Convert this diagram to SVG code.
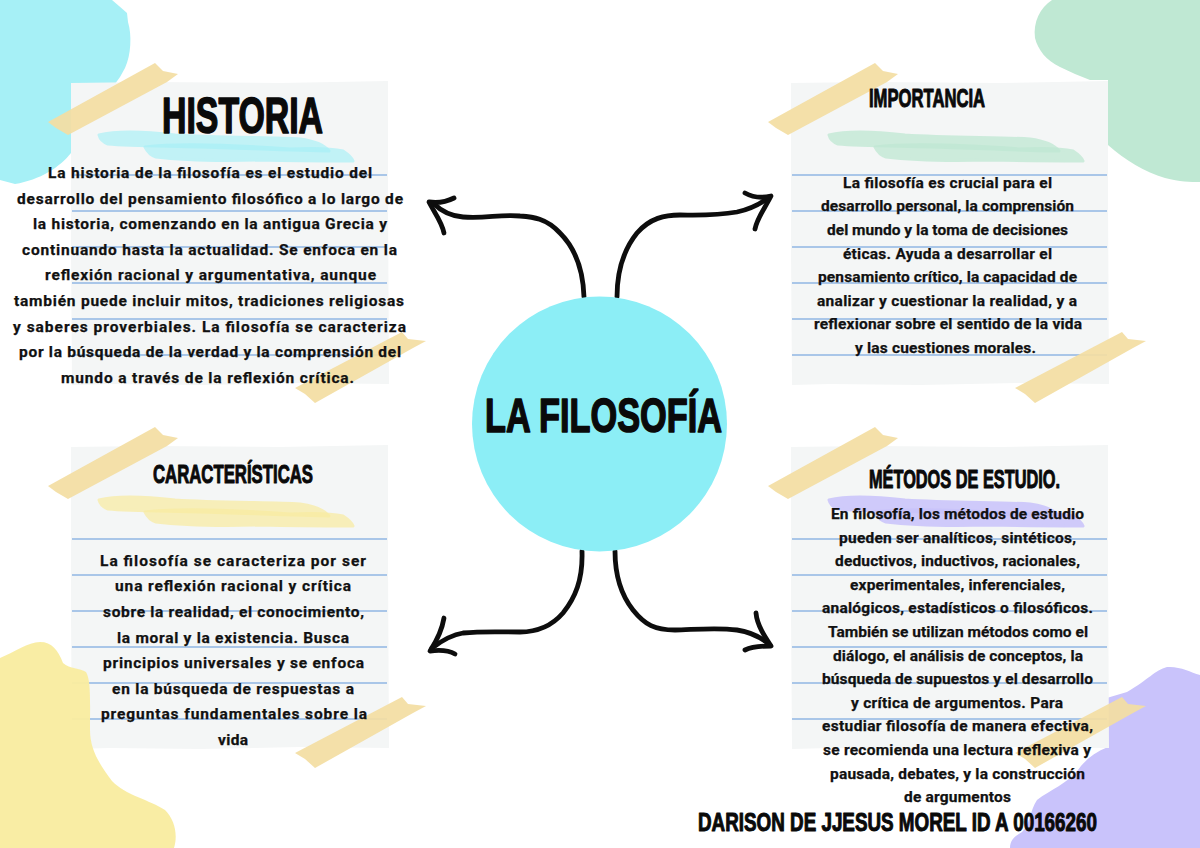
<svg xmlns="http://www.w3.org/2000/svg" width="1200" height="848" viewBox="0 0 1200 848">
<style>
.b{font-family:"Roboto","Liberation Sans",sans-serif;font-weight:700;font-size:15.5px;fill:#111;stroke:#111;stroke-width:.25}
.t{font-family:"Liberation Sans","Arial",sans-serif;font-weight:700;fill:#0a0a0a;stroke:#0a0a0a;stroke-width:1;stroke-linejoin:round}
.paper{fill:#f4f6f6}
.rule{stroke:#a9c6e8;stroke-width:2;fill:none}
.tape{fill:#f3dea3;opacity:.93}
.hl{stroke-width:3;stroke-linejoin:round}
.c{fill:none;stroke:#0d0d0d;stroke-width:4.8;stroke-linecap:round;stroke-linejoin:round}
</style>
<defs>
<path id="sheet" d="M71 83L150 82L280 83L388 81L388 200L389 384L300 383L200 385L110 384L72 385L71 250Z"/>
<g id="rules"><path d="M72 175H387M72 211H387M72 247H387M72 283H387M72 319H387M72 355H387"/></g>
<path id="tape1" d="M48 122L155 63L163 71L178 74L167 82L68 135L56 128Z"/>
<path id="tape2" d="M295 388L402 332L408 339L426 341L413 348L315 403L305 394Z"/>
<path id="hl1" d="M99 135C115 131 140 131 175 135C220 138 270 137 300 139C315 141 325 146 329 151C300 151 240 148 200 147C165 146 130 146 108 144C102 142 100 139 99 135Z"/>
<path id="hl2" d="M145 147C170 144 220 144 290 149C310 148 330 148 343 151C349 155 352 158 353 161C330 161 300 161 260 160C220 161 180 160 156 157C150 155 147 151 145 147Z"/>
</defs>

<rect width="1200" height="848" fill="#fff"/>

<g id="blob-blue"><path fill="#a6f0f6" d="M0 0H112L119 6L127 13L128 22C132 35 131 55 125 68L120 77L112 88H71V153C60 167 40 180 15 184L0 180Z"/></g>
<g id="blob-green"><path fill="#bfe8d3" d="M1052 0C1040 8 1033 22 1035 38C1038 50 1046 60 1060 67C1070 72 1080 76 1090 80H1108V145C1125 160 1145 172 1165 178C1180 182 1190 182 1200 182V0Z"/></g>
<g id="blob-purple"><path fill="#c9c3fb" d="M1200 675C1190 672 1180 666 1167 667C1155 670 1148 680 1127 692L1100 700V747L1108 747C1095 752 1085 760 1078 770C1068 783 1050 790 1037 800C1030 810 1030 825 1022 832C1015 836 1010 840 1010 848H1200Z"/></g>

<g id="historia">
<use href="#sheet" class="paper"/>
<use href="#rules" class="rule"/>
<use href="#hl1" class="hl" fill="#a6f0f6" stroke="#a6f0f6" opacity=".65"/>
<use href="#hl2" class="hl" fill="#a6f0f6" stroke="#a6f0f6" opacity=".65"/>
</g>
<g id="importancia" transform="translate(720 0)">
<use href="#sheet" class="paper"/>
<use href="#rules" class="rule"/>
<use href="#hl1" class="hl" x="10" fill="#bfe8d3" stroke="#bfe8d3" opacity=".75"/>
<use href="#hl2" class="hl" x="10" fill="#bfe8d3" stroke="#bfe8d3" opacity=".75"/>
</g>
<g id="caracteristicas" transform="translate(0 364)">
<use href="#sheet" class="paper"/>
<use href="#rules" class="rule"/>
<use href="#hl1" class="hl" y="1" fill="#f9eca0" stroke="#f9eca0" opacity=".7"/>
<use href="#hl2" class="hl" y="1" fill="#f9eca0" stroke="#f9eca0" opacity=".7"/>
</g>
<g id="metodos" transform="translate(720 364)">
<use href="#sheet" class="paper"/>
<use href="#rules" class="rule"/>
<use href="#hl1" class="hl" x="10" y="1" fill="#c9c3fb" stroke="#c9c3fb" opacity=".85"/>
<use href="#hl2" class="hl" x="10" y="1" fill="#c9c3fb" stroke="#c9c3fb" opacity=".85"/>
</g>

<g id="blob-yellow"><path fill="#f9eca0" opacity=".96" d="M0 658C15 652 28 642 40 642C52 642 58 650 63 663C70 669 80 668 86 672C91 680 90 700 90 730C90 750 100 765 112 781C125 795 150 800 165 810C175 820 178 835 174 848H0Z"/></g>

<g id="tapes">
<use href="#tape1" class="tape"/><use href="#tape2" class="tape"/>
<use href="#tape1" class="tape" x="720"/><use href="#tape2" class="tape" x="720"/>
<use href="#tape1" class="tape" y="364"/><use href="#tape2" class="tape" y="365"/>
<use href="#tape1" class="tape" x="720" y="364"/><use href="#tape2" class="tape" x="720" y="365"/>
</g>

<g id="connectors">
<path class="c" d="M584 297C583 265 572 245 560 233C546 218 533 217 520 216C500 214 485 219 463 217C450 216 440 210 433 203"/>
<path class="c" d="M454 198C444 203 436 203 429 202C434 212 442 222 444 233"/>
<path class="c" d="M617 297C617 270 625 248 637 233C650 218 665 215 680 215C695 215 715 216 737 212C750 209 760 204 768 198"/>
<path class="c" d="M745 193C754 198 763 198 771 196C765 208 757 218 755 229"/>
<path class="c" d="M582 551C583 580 575 598 563 613C550 628 535 632 520 632C500 632 483 631 463 633C450 635 440 642 432 648"/>
<path class="c" d="M444 618C442 630 436 642 430 651C438 650 448 650 455 654"/>
<path class="c" d="M615 551C615 577 622 596 633 610C645 625 655 630 675 630C690 630 715 627 737 630C750 632 762 638 770 645"/>
<path class="c" d="M756 613C757 625 765 637 771 646C763 646 753 646 745 650"/>
</g>

<g id="centro">
<circle cx="599.5" cy="424" r="127.5" fill="#8ceef6"/>
<text class="t" x="485" y="432" font-size="48" textLength="237" lengthAdjust="spacingAndGlyphs" style="stroke-width:1.6">LA FILOSOFÍA</text>
</g>

<g id="historia-texto">
<text class="t" x="162" y="133" font-size="50" textLength="161" lengthAdjust="spacingAndGlyphs" style="stroke-width:1.6">HISTORIA</text>
<text class="b" x="48" y="178" textLength="324">La historia de la filosofía es el estudio del</text>
<text class="b" x="17" y="203.6" textLength="386">desarrollo del pensamiento filosófico a lo largo de</text>
<text class="b" x="33" y="229.2" textLength="354">la historia, comenzando en la antigua Grecia y</text>
<text class="b" x="22" y="254.8" textLength="375">continuando hasta la actualidad. Se enfoca en la</text>
<text class="b" x="45" y="280.4" textLength="331">reflexión racional y argumentativa, aunque</text>
<text class="b" x="14" y="306" textLength="390">también puede incluir mitos, tradiciones religiosas</text>
<text class="b" x="13" y="331.6" textLength="393">y saberes proverbiales. La filosofía se caracteriza</text>
<text class="b" x="19" y="357.2" textLength="382">por la búsqueda de la verdad y la comprensión del</text>
<text class="b" x="61" y="382.8" textLength="293">mundo a través de la reflexión crítica.</text>
</g>

<g id="importancia-texto">
<text class="t" x="869" y="107" font-size="25" textLength="116" lengthAdjust="spacingAndGlyphs">IMPORTANCIA</text>
<text class="b" x="843" y="187.7" textLength="209">La filosofía es crucial para el</text>
<text class="b" x="821" y="211.3" textLength="253">desarrollo personal, la comprensión</text>
<text class="b" x="827" y="234.9" textLength="241">del mundo y la toma de decisiones</text>
<text class="b" x="843" y="258.5" textLength="209">éticas. Ayuda a desarrollar el</text>
<text class="b" x="818" y="282.1" textLength="259">pensamiento crítico, la capacidad de</text>
<text class="b" x="817" y="305.7" textLength="260">analizar y cuestionar la realidad, y a</text>
<text class="b" x="814" y="329.3" textLength="268">reflexionar sobre el sentido de la vida</text>
<text class="b" x="855" y="352.9" textLength="181">y las cuestiones morales.</text>
</g>

<g id="caracteristicas-texto">
<text class="t" x="153" y="483" font-size="25" textLength="160" lengthAdjust="spacingAndGlyphs">CARACTERÍSTICAS</text>
<text class="b" x="100" y="565.7" textLength="266">La filosofía se caracteriza por ser</text>
<text class="b" x="115" y="591.3" textLength="236">una reflexión racional y crítica</text>
<text class="b" x="103" y="616.9" textLength="261">sobre la realidad, el conocimiento,</text>
<text class="b" x="117" y="642.5" textLength="232">la moral y la existencia. Busca</text>
<text class="b" x="103" y="668.1" textLength="261">principios universales y se enfoca</text>
<text class="b" x="112" y="693.7" textLength="242">en la búsqueda de respuestas a</text>
<text class="b" x="101" y="719.3" textLength="266">preguntas fundamentales sobre la</text>
<text class="b" x="218" y="744.9" textLength="30">vida</text>
</g>

<g id="metodos-texto">
<text class="t" x="869" y="488" font-size="25" textLength="191" lengthAdjust="spacingAndGlyphs">MÉTODOS DE ESTUDIO.</text>
<text class="b" x="831" y="519" textLength="253">En filosofía, los métodos de estudio</text>
<text class="b" x="839" y="542.6" textLength="237">pueden ser analíticos, sintéticos,</text>
<text class="b" x="835" y="566.2" textLength="245">deductivos, inductivos, racionales,</text>
<text class="b" x="850" y="589.8" textLength="215">experimentales, inferenciales,</text>
<text class="b" x="822" y="613.4" textLength="271">analógicos, estadísticos o filosóficos.</text>
<text class="b" x="828" y="637" textLength="260">También se utilizan métodos como el</text>
<text class="b" x="833" y="660.6" textLength="250">diálogo, el análisis de conceptos, la</text>
<text class="b" x="822" y="684.2" textLength="271">búsqueda de supuestos y el desarrollo</text>
<text class="b" x="851" y="707.8" textLength="212">y crítica de argumentos. Para</text>
<text class="b" x="822" y="731.4" textLength="271">estudiar filosofía de manera efectiva,</text>
<text class="b" x="823" y="755" textLength="268">se recomienda una lectura reflexiva y</text>
<text class="b" x="830" y="778.6" textLength="255">pausada, debates, y la construcción</text>
<text class="b" x="904" y="802.2" textLength="107">de argumentos</text>
</g>

<g id="autor">
<text class="t" transform="translate(698 831) scale(.78 1)" font-size="25" textLength="511.5" lengthAdjust="spacingAndGlyphs">DARISON DE JJESUS MOREL ID A 00166260</text>
</g>
</svg>
